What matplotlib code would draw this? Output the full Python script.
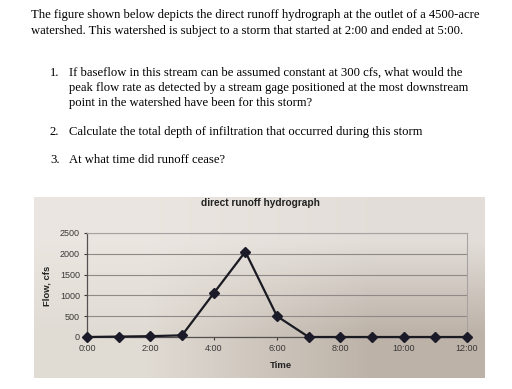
import matplotlib
matplotlib.use('Agg')
import matplotlib.pyplot as plt
import numpy as np

# hydrograph values (hours, cfs)
hours = [0, 1, 2, 3, 4, 5, 6, 7, 8, 9, 10, 11, 12]
flow = [0, 10, 20, 40, 1050, 2050, 500, 0, 0, 0, 0, 0, 0]
x_ticks = [0, 2, 4, 6, 8, 10, 12]
x_labels = ['0:00', '2:00', '4:00', '6:00', '8:00', '10:00', '12:00']
y_ticks = [0, 500, 1000, 1500, 2000, 2500]

intro = ['The figure shown below depicts the direct runoff hydrograph at the outlet of a 4500-acre',
         'watershed. This watershed is subject to a storm that started at 2:00 and ended at 5:00.']
q1 = ['If baseflow in this stream can be assumed constant at 300 cfs, what would the',
      'peak flow rate as detected by a stream gage positioned at the most downstream',
      'point in the watershed have been for this storm?']
q2 = 'Calculate the total depth of infiltration that occurred during this storm'
q3 = 'At what time did runoff cease?'

W, H = 512, 389
fig = plt.figure(figsize=(W / 100, H / 100), dpi=100)
fig.patch.set_facecolor('white')

def fx(px):
    return px / W

def fy(py):
    return 1 - py / H

serif = {'family': 'Liberation Serif', 'size': 9.1, 'color': 'black'}

# question text
fig.text(fx(31), fy(15), intro[0], va='center', **serif)
fig.text(fx(31), fy(31), intro[1], va='center', **serif)
for i, line in enumerate(q1):
    fig.text(fx(69), fy(73 + i * 15), line, va='center', **serif)
fig.text(fx(50), fy(73), '1.', va='center', **serif)
fig.text(fx(50), fy(132), '2.', va='center', **serif)
fig.text(fx(69), fy(132), q2, va='center', **serif)
fig.text(fx(50), fy(160), '3.', va='center', **serif)
fig.text(fx(69), fy(160), q3, va='center', **serif)

# the photographed chart sheet: light paper, darker toward the bottom right
photo = fig.add_axes([fx(34), fy(378), fx(485) - fx(34), fy(197) - fy(378)], zorder=-1)
corners = np.array([[[0.92, 0.90, 0.88], [0.89, 0.87, 0.85]],
                    [[0.88, 0.86, 0.83], [0.74, 0.70, 0.66]]])
photo.imshow(corners, interpolation='bilinear', aspect='auto', extent=[0, 1, 0, 1])
photo.axis('off')

ax = fig.add_axes([fx(87), fy(337), fx(467) - fx(87), fy(233) - fy(337)])
ax.patch.set_alpha(0)
ax.plot(hours, flow, color='#1a1a22', lw=1.6, marker='D', ms=5, mfc='#1a1a28', mec='#1a1a28',
        clip_on=False, zorder=3)
ax.set_xlim(0, 12)
ax.set_ylim(0, 2500)
ax.set_xticks(x_ticks)
ax.set_xticklabels(x_labels)
ax.set_yticks(y_ticks)
ax.grid(axis='y', color='#8f8a88', lw=0.8)
ax.set_axisbelow(True)
for s in ['top', 'right']:
    ax.spines[s].set_color('#a8a2a3')
    ax.spines[s].set_linewidth(0.8)
for s in ['left', 'bottom']:
    ax.spines[s].set_color('#555050')
    ax.spines[s].set_linewidth(0.9)
ax.tick_params(labelsize=6.5, colors='#3a3838', length=2, pad=3)
for lab in ax.get_xticklabels() + ax.get_yticklabels():
    lab.set_family('Liberation Sans')

fig.text(fx(260), fy(203), 'direct runoff hydrograph', ha='center', va='center',
         family='Liberation Sans', weight='bold', size=7.3, color='#222222')
fig.text(fx(47), fy(286), 'Flow, cfs', ha='center', va='center', rotation=90,
         family='Liberation Sans', weight='bold', size=6.8, color='#222222')
fig.text(fx(281), fy(365), 'Time', ha='center', va='center',
         family='Liberation Sans', weight='bold', size=6.8, color='#222222')

fig.savefig('out.png', dpi=100)
